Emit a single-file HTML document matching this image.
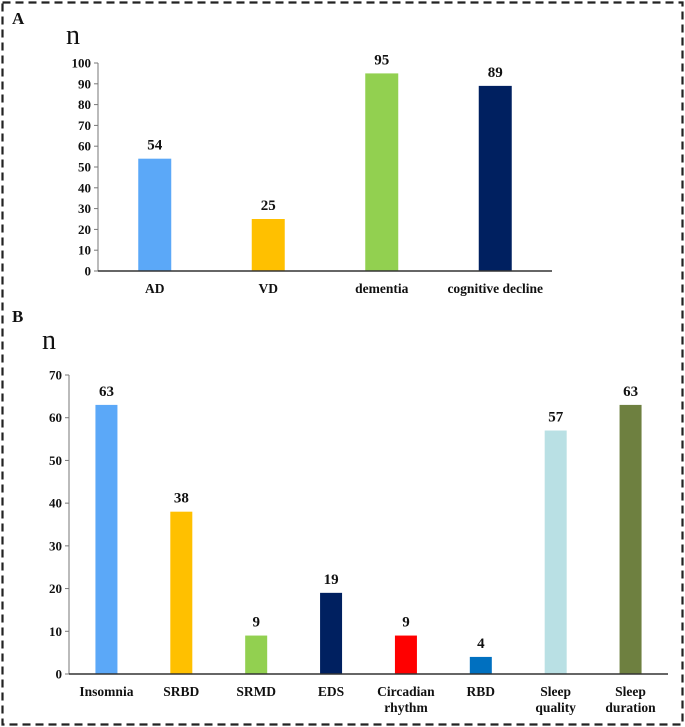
<!DOCTYPE html>
<html><head><meta charset="utf-8"><style>
html,body{margin:0;padding:0;background:#fff}
svg{display:block}
svg text{font-family:"Liberation Serif","Times New Roman","DejaVu Serif",serif !important;font-weight:bold;fill:#111}
</style></head><body>
<svg id="c" width="685" height="727" font-family="Liberation Serif, serif">
<rect x="2.5" y="2.5" width="680" height="722" fill="none" stroke="#222" stroke-width="2.2" stroke-dasharray="8,5"/>
<text x="12" y="24" font-size="17">A</text>
<text x="66" y="44" font-size="28" style="font-weight:normal">n</text>
<text x="12" y="322" font-size="17">B</text>
<text x="42" y="349" font-size="28" style="font-weight:normal">n</text>
<g id="ga"></g><g id="gb"></g>
</svg>
<script>
const catsA = ["AD","VD","dementia","cognitive decline"];
const valsA = [54,25,95,89];
const colorsA = ["#5ba8f8","#ffc000","#92d050","#002060"];
const ticksA = [0,10,20,30,40,50,60,70,80,90,100];
const catsB = [["Insomnia"],["SRBD"],["SRMD"],["EDS"],["Circadian","rhythm"],["RBD"],["Sleep","quality"],["Sleep","duration"]];
const valsB = [63,38,9,19,9,4,57,63];
const colorsB = ["#5ba8f8","#ffc000","#92d050","#002060","#ff0000","#0070c0","#b9e0e4","#6e8040"];
const ticksB = [0,10,20,30,40,50,60,70];
const NS="http://www.w3.org/2000/svg";
function mk(p,tag,a){const e=document.createElementNS(NS,tag);for(const k in a)e.setAttribute(k,a[k]);p.appendChild(e);return e;}
function draw(g,cats,vals,cols,ticks,o,prefix){
  const max=ticks[ticks.length-1];
  const y=v=>o.y0-(v/max)*(o.y0-o.y1);
  const step=(o.x1-o.x0)/cats.length;
  const x=i=>o.x0+step*(i+0.5);
  let l=mk(g,"line",{x1:o.x0,y1:o.y1,x2:o.x0,y2:o.y0,stroke:"#777","stroke-width":1});
  
  
  ticks.forEach(t=>{
    let tk=mk(g,"line",{x1:o.x0-4,y1:y(t),x2:o.x0,y2:y(t),stroke:"#777"});
    
    
    let tx=mk(g,"text",{x:o.x0-7,y:y(t)+4.5,"font-size":13,"text-anchor":"end"});tx.textContent=t;
    
    
  });
  cats.forEach((c,i)=>{
    const v=vals[i];
    let r=mk(g,"rect",{x:x(i)-o.bw/2,y:y(v),width:o.bw,height:o.y0-y(v),fill:cols[i]});
    
    
    let vt=mk(g,"text",{x:x(i),y:y(v)-9,"font-size":15,"text-anchor":"middle"});vt.textContent=v;
    
    
    const lines=Array.isArray(c)?c:[c];
    lines.forEach((ln,j)=>{
      let t=mk(g,"text",{x:x(i),y:o.y0+22+j*16,"font-size":13.5,"text-anchor":"middle"});t.textContent=ln;
      
      
    });
  });
  let xa=mk(g,"line",{x1:o.x0,y1:o.y0,x2:o.x1,y2:o.y0,stroke:"#333","stroke-width":1.5});
  
  
}
draw(document.getElementById("ga"),catsA,valsA,colorsA,ticksA,{x0:98,x1:552,y0:271,y1:63,bw:33},"a");
draw(document.getElementById("gb"),catsB,valsB,colorsB,ticksB,{x0:69,x1:668,y0:674,y1:375,bw:22},"b");
</script>
</body></html>
